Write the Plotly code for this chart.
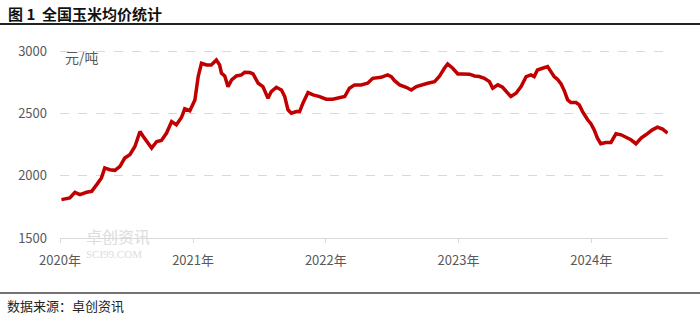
import plotly.graph_objects as go

# ---- data ----
dates = [
    "2020-01-05", "2020-01-28", "2020-02-11", "2020-02-25", "2020-03-14", "2020-03-28",
    "2020-04-11", "2020-04-24", "2020-05-03", "2020-05-17", "2020-05-31", "2020-06-14",
    "2020-06-27", "2020-07-11", "2020-07-25", "2020-08-08", "2020-08-17", "2020-08-30",
    "2020-09-09", "2020-09-23", "2020-10-06", "2020-10-20", "2020-11-03", "2020-11-16",
    "2020-11-30", "2020-12-09", "2020-12-23", "2021-01-06", "2021-01-15", "2021-01-24",
    "2021-02-07", "2021-02-20", "2021-03-06", "2021-03-15", "2021-03-20", "2021-03-29",
    "2021-04-07", "2021-04-17", "2021-04-30", "2021-05-14", "2021-05-23", "2021-06-06",
    "2021-06-15", "2021-06-29", "2021-07-12", "2021-07-26", "2021-08-04", "2021-08-18",
    "2021-09-01", "2021-09-10", "2021-09-19", "2021-09-28", "2021-10-12", "2021-10-21",
    "2021-10-30", "2021-11-13", "2021-11-27", "2021-12-15", "2022-01-02", "2022-01-20",
    "2022-02-08", "2022-02-22", "2022-03-07", "2022-03-21", "2022-04-08", "2022-04-26",
    "2022-05-10", "2022-06-02", "2022-06-20", "2022-06-30", "2022-07-09", "2022-07-23",
    "2022-08-10", "2022-08-24", "2022-09-07", "2022-09-20", "2022-10-08", "2022-10-27",
    "2022-11-09", "2022-11-23", "2022-12-02", "2022-12-16", "2022-12-30", "2023-01-12",
    "2023-01-31", "2023-02-14", "2023-02-27", "2023-03-13", "2023-03-27", "2023-04-05",
    "2023-04-19", "2023-05-02", "2023-05-16", "2023-05-25", "2023-06-08", "2023-06-22",
    "2023-07-06", "2023-07-19", "2023-07-28", "2023-08-06", "2023-08-20", "2023-09-03",
    "2023-09-12", "2023-09-21", "2023-09-30", "2023-10-10", "2023-10-19", "2023-10-28",
    "2023-11-06", "2023-11-20", "2023-11-29", "2023-12-08", "2023-12-22", "2023-12-31",
    "2024-01-09", "2024-01-18", "2024-01-27", "2024-02-10", "2024-02-24", "2024-03-09",
    "2024-03-23", "2024-04-06", "2024-04-19", "2024-05-03", "2024-05-17", "2024-05-30",
    "2024-06-17", "2024-07-01", "2024-07-15", "2024-07-29",
]
prices = [
    1809, 1823, 1868, 1850, 1868, 1876,
    1930, 1984, 2064, 2050, 2045, 2077,
    2144, 2171, 2237, 2358, 2318, 2264,
    2224, 2277, 2285, 2345, 2438, 2412,
    2470, 2540, 2525, 2612, 2800, 2907,
    2893, 2893, 2933, 2893, 2827, 2805,
    2719, 2773, 2805, 2813, 2835, 2832,
    2821, 2746, 2719, 2626, 2679, 2714,
    2692, 2639, 2532, 2505, 2518, 2518,
    2586, 2671, 2652, 2639, 2618, 2618,
    2626, 2639, 2706, 2733, 2733, 2746,
    2786, 2794, 2813, 2800, 2767, 2733,
    2714, 2692, 2719, 2733, 2746, 2759,
    2800, 2867, 2901, 2867, 2821, 2821,
    2819, 2805, 2800, 2786, 2759, 2706,
    2733, 2714, 2666, 2639, 2666, 2719,
    2800, 2813, 2800, 2853, 2867, 2880,
    2840, 2800, 2778, 2740, 2685, 2612,
    2591, 2591, 2572, 2518, 2452, 2420,
    2371, 2304, 2259, 2269, 2269, 2339,
    2331, 2313, 2291, 2259, 2304, 2331,
    2371, 2393, 2377, 2345,
]
year_ticks = ["2020-01-01", "2021-01-01", "2022-01-01", "2023-01-01", "2024-01-01"]
year_labels = ["2020年", "2021年", "2022年", "2023年", "2024年"]
y_ticks = [1500, 2000, 2500, 3000]

title_text = "图 1  全国玉米均价统计"
unit_text = "元/吨"
source_text = "数据来源：卓创资讯"

# ---- layout geometry (pixels) ----
W, H = 700, 317
L, R, T, B = 60, 32, 48, 79
PW, PH = W - L - R, H - T - B


def px(x):
    return (x - L) / PW


def py(y):
    return (H - B - y) / PH


FONT = "Noto Sans CJK SC"
GRAY = "#595959"

fig = go.Figure()
fig.add_trace(go.Scatter(
    x=dates, y=prices, mode="lines",
    line=dict(color="#c00000", width=3.5),
    hoverinfo="skip", showlegend=False,
))

fig.update_layout(
    width=W, height=H,
    margin=dict(l=L, r=R, t=T, b=B, pad=0),
    paper_bgcolor="white", plot_bgcolor="white",
    font=dict(family=FONT, color=GRAY, size=13),
    showlegend=False,
)
fig.update_xaxes(
    type="date", range=["2020-01-01", "2024-07-30"],
    tickvals=year_ticks, ticktext=year_labels,
    showgrid=False, zeroline=False,
    showline=True, linecolor="#d9d9d9", linewidth=1,
    ticks="outside", ticklen=4, tickcolor="#d9d9d9",
    tickfont=dict(family=FONT, size=13, color=GRAY),
    ticklabelstandoff=6,
)
fig.update_yaxes(
    range=[1500, 3030], tickvals=y_ticks,
    showgrid=True, gridcolor="#d9d9d9", griddash="dash", gridwidth=1,
    zeroline=False, showline=False,
    tickfont=dict(family=FONT, size=13, color=GRAY),
    ticklabelstandoff=12,
)

shapes = [
    dict(type="line", xref="paper", yref="paper",
         x0=px(0), x1=px(W), y0=py(24), y1=py(24),
         line=dict(color="#222222", width=2)),
    dict(type="line", xref="paper", yref="paper",
         x0=px(0), x1=px(W), y0=py(293), y1=py(293),
         line=dict(color="#444444", width=1.5)),
]
fig.update_layout(shapes=shapes)

annotations = [
    dict(text="<b>" + title_text + "</b>", x=px(6), y=py(13), xref="paper", yref="paper",
         xanchor="left", yanchor="middle", showarrow=False,
         font=dict(family=FONT, size=15, color="#111111")),
    dict(text=unit_text, x=px(63), y=py(57), xref="paper", yref="paper",
         xanchor="left", yanchor="middle", showarrow=False,
         font=dict(family=FONT, size=14, color=GRAY)),
    dict(text=source_text, x=px(5), y=py(305), xref="paper", yref="paper",
         xanchor="left", yanchor="middle", showarrow=False,
         font=dict(family=FONT, size=13, color="#222222")),
    dict(text="卓创资讯", x=px(84), y=py(236), xref="paper", yref="paper",
         xanchor="left", yanchor="middle", showarrow=False,
         font=dict(family=FONT, size=16, color="#dcdcdc")),
    dict(text="SCI99.COM", x=px(84), y=py(254), xref="paper", yref="paper",
         xanchor="left", yanchor="middle", showarrow=False,
         font=dict(family="Liberation Serif", size=11, color="#dcdcdc")),
]
fig.update_layout(annotations=annotations)

fig.write_html("out.html")
